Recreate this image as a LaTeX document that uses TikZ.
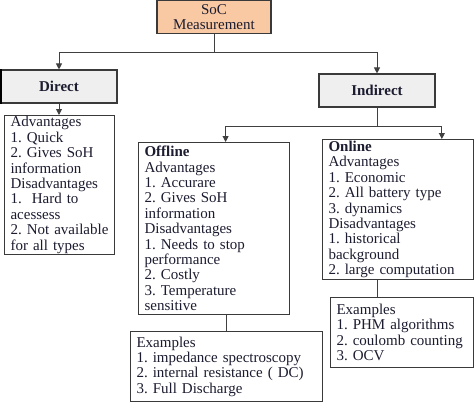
\documentclass[tikz,border=0pt]{standalone}
\usepackage{fontspec}
\setmainfont{Liberation Serif}
\usetikzlibrary{arrows.meta,calc}
\frenchspacing
\definecolor{socfill}{HTML}{F8C9A2}
\definecolor{headfill}{HTML}{EFEFEF}
\definecolor{boxline}{HTML}{3A3A3A}
\definecolor{txtcol}{HTML}{1C1C30}
\newcommand{\diagfont}{\fontsize{15}{15.4}\selectfont}
\tikzset{
  headbox/.style={draw=boxline, line width=1.1pt, fill=headfill, minimum width=116pt, minimum height=33pt, inner sep=0pt, text=txtcol, font=\diagfont\bfseries},
  listbox/.style={draw=boxline, line width=1.1pt, fill=white, anchor=north west, align=left, inner xsep=6pt, inner ysep=1pt, text=txtcol, font=\diagfont},
  conn/.style={line width=0.9pt, draw=black!75},
  arr/.style={conn, -{Triangle[width=6pt,length=6pt]}},
}

\begin{document}
\begin{tikzpicture}[x=1pt,y=-1pt]
			%%%%% START %%%%%
			\useasboundingbox (0,0) rectangle (474,420);
			
			\node[draw=boxline, line width=1.1pt, fill=socfill, minimum width=114pt, minimum height=33pt, inner sep=0pt, align=center, text=txtcol, font=\diagfont] (soc) at (214,17) {SoC\\Measurement};
			
			\node[headbox, minimum width=116pt] (direct) at (59,86.5) {Direct};
			\draw[line width=3pt, black] (direct.north west) -- (direct.south west);
			\node[headbox] (indirect) at (377,90.5) {Indirect};
			
			\node[listbox, text width=98pt, minimum height=138pt] (dlist) at (4,115) {Advantages\\1. Quick\\2. Gives SoH\\information\\Disadvantages\\1.\ \ Hard to\\acessess\\2. Not available\\for all types};
			
			\node[listbox, text width=139pt, minimum height=172pt] (offline) at (138,142) {\textbf{Offline}\\Advantages\\1. Accurare\\2. Gives SoH\\information\\Disadvantages\\1. Needs to stop\\performance\\2. Costly\\3. Temperature\\sensitive};
			
			\node[listbox, text width=139pt, minimum height=140pt] (online) at (322,139) {\textbf{Online}\\Advantages\\1. Economic\\2. All battery type\\3. dynamics\\Disadvantages\\1. historical\\background\\2. large computation};
			
			\node[listbox, text width=180pt, minimum height=70pt] (ex1) at (130,331) {Examples\\1. impedance spectroscopy\\2. internal resistance ( DC)\\3. Full Discharge};
			\node[listbox, text width=131pt, minimum height=70pt] (ex2) at (330,297) {Examples\\1. PHM algorithms\\2. coulomb counting\\3. OCV};
			
			% top split
			\coordinate (socjoin) at ($(soc.south)+(0,18)$);
			\draw[conn] (soc.south) -- (socjoin);
			\draw[arr] (socjoin) -| (direct.north);
			\draw[arr] (socjoin) -| (indirect.north);
			\draw[arr] (direct.south) -- (direct.south |- dlist.north);
			
			% indirect split
			\coordinate (indjoin) at ($(indirect.south)+(0,19)$);
			\coordinate (offin) at ($(offline.north west)!0.576!(offline.north east)$);
			\coordinate (onin) at ($(online.north west)!0.788!(online.north east)$);
			\draw[conn] (indirect.south) -- (indjoin);
			\draw[arr] (indjoin) -| (offin);
			\draw[arr] (indjoin) -| (onin);
			
			% examples
			\draw[conn] (ex1.north) -- (ex1.north |- offline.south);
			\coordinate (onout) at ($(online.south west)!0.364!(online.south east)$);
			\draw[conn] (onout) -- (onout |- ex2.north);
			
			%%%%% END %%%%%
\end{tikzpicture}
\end{document}
